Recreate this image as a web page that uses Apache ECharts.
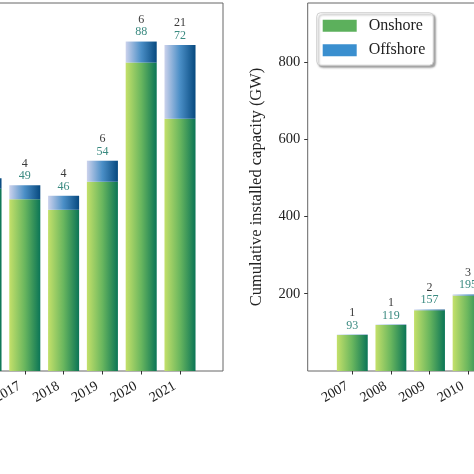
<!DOCTYPE html>
<html>
<head>
<meta charset="utf-8">
<script src="https://cdn.jsdelivr.net/npm/echarts@6/dist/echarts.min.js"></script>
<style>
html,body{margin:0;padding:0;background:#fff;}
#c{width:474px;height:474px;}
</style>
</head>
<body>
<div id="c"></div>
<script>
// Annual additions (left panel, visible part)
var yearsAdd = ['2016','2017','2018','2019','2020','2021'];
var onshoreAdd = [52, 49, 46, 54, 88, 72];
var offshoreAdd = [3, 4, 4, 6, 6, 21];
// Cumulative capacity (right panel, visible part)
var yearsCum = ['2007','2008','2009','2010'];
var onshoreCum = [93, 119, 157, 195];
var offshoreCum = [1, 1, 2, 3];
var cumTicks = [200, 400, 600, 800];

var FONT = "'Liberation Serif','DejaVu Serif',serif";
var chart = echarts.init(document.getElementById('c'), null, {renderer:'canvas'});

function gradOn(){
  return new echarts.graphic.LinearGradient(0,0,1,0,[
    {offset:0,color:'#c4e06a'},{offset:0.5,color:'#69b65e'},{offset:1,color:'#0b7556'}]);
}
function gradOff(){
  return new echarts.graphic.LinearGradient(0,0,1,0,[
    {offset:0,color:'#ccd2ec'},{offset:0.5,color:'#4a8ec6'},{offset:1,color:'#07497f'}]);
}
function labelFor(off, on){
  return {
    show:true, position:'top', distance:3,
    formatter:function(p){ return '{a|'+off[p.dataIndex]+'}\n{b|'+on[p.dataIndex]+'}'; },
    rich:{
      a:{color:'#3a3a3a', fontSize:12, lineHeight:12.5, fontFamily:FONT, align:'center'},
      b:{color:'#3a8a80', fontSize:12, lineHeight:12.5, fontFamily:FONT, align:'center'}
    }
  };
}
var catX = function(data, gi){
  return {
    type:'category', gridIndex:gi, data:data,
    axisLine:{show:false},
    axisTick:{show:true, alignWithLabel:true, interval:0, length:3.5, lineStyle:{color:'#333', width:1}},
    axisLabel:{rotate:30, interval:0, fontSize:14, color:'#222', margin:11, padding:[0,6,0,0], fontFamily:FONT}
  };
};
var gridBase = {containLabel:false, outerBoundsMode:'none'};
function g(o){ return Object.assign({}, gridBase, o); }

chart.setOption({
  animation:false,
  backgroundColor:'#fff',
  grid:[
    g({left:-200, top:3, width:423, height:368, show:true, borderColor:'#666', borderWidth:1, backgroundColor:'transparent'}),
    g({left:-33.4, top:3, width:232.8, height:368}),
    g({left:307.7, top:3, width:300, height:368, show:true, borderColor:'#666', borderWidth:1, backgroundColor:'transparent'}),
    g({left:333, top:3, width:154.4, height:368})
  ],
  xAxis:[
    {type:'value', gridIndex:0, show:false},
    catX(yearsAdd, 1),
    {type:'value', gridIndex:2, show:false},
    catX(yearsCum, 3)
  ],
  yAxis:[
    {type:'value', gridIndex:0, show:false},
    {type:'value', gridIndex:1, min:0, max:105, show:false},
    {type:'value', gridIndex:2, min:0, max:952,
     name:'Cumulative installed capacity (GW)', nameLocation:'middle', nameGap:43,
     nameTextStyle:{fontSize:16.5, color:'#222', fontFamily:FONT},
     axisLine:{show:false},
     axisTick:{show:true, length:3.5, customValues:cumTicks, lineStyle:{color:'#333'}},
     axisLabel:{customValues:cumTicks, fontSize:14.5, color:'#222', margin:7.5, fontFamily:FONT},
     splitLine:{show:false}},
    {type:'value', gridIndex:3, min:0, max:952, show:false}
  ],
  legend:{
    orient:'vertical', left:316.7, top:12.7,
    padding:[5,8,7,6], itemGap:8.5, itemWidth:34, itemHeight:12,
    backgroundColor:'#fff', borderColor:'#d0d0d0', borderWidth:1, borderRadius:4,
    shadowColor:'rgba(0,0,0,0.35)', shadowBlur:2, shadowOffsetX:2, shadowOffsetY:2,
    textStyle:{fontSize:16, color:'#222', fontFamily:FONT, lineHeight:16, padding:[0,0,0,7]},
    data:[
      {name:'Onshore', icon:'rect', itemStyle:{color:'#5cb05c'}},
      {name:'Offshore', icon:'rect', itemStyle:{color:'#3a8fcf'}}
    ]
  },
  series:[
    {name:'Onshore', type:'bar', xAxisIndex:1, yAxisIndex:1, stack:'L', barWidth:'80%',
     data:onshoreAdd, itemStyle:{color:gradOn()}},
    {name:'Offshore', type:'bar', xAxisIndex:1, yAxisIndex:1, stack:'L', barWidth:'80%',
     data:offshoreAdd, itemStyle:{color:gradOff()}, label:labelFor(offshoreAdd, onshoreAdd)},
    {name:'Onshore', type:'bar', xAxisIndex:3, yAxisIndex:3, stack:'R', barWidth:'80%',
     data:onshoreCum, itemStyle:{color:gradOn()}},
    {name:'Offshore', type:'bar', xAxisIndex:3, yAxisIndex:3, stack:'R', barWidth:'80%',
     data:offshoreCum, itemStyle:{color:gradOff()}, label:labelFor(offshoreCum, onshoreCum)}
  ]
});
</script>
</body>
</html>
